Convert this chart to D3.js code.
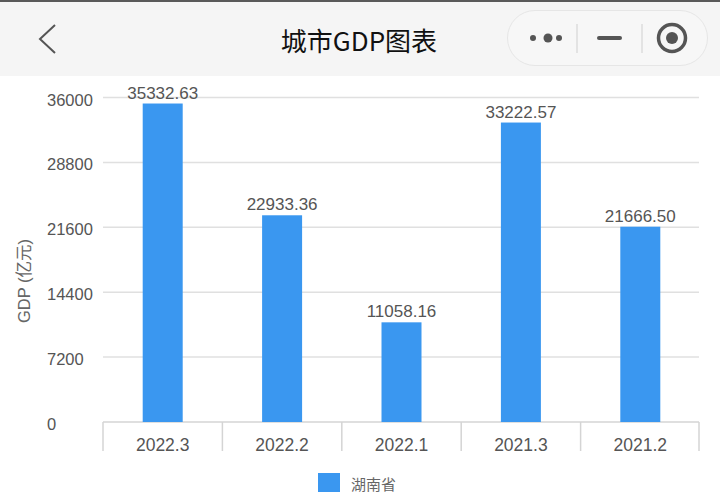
<!DOCTYPE html>
<html>
<head>
<meta charset="utf-8">
<script src="https://cdn.jsdelivr.net/npm/d3@7"></script>
<style>
  html, body { margin: 0; padding: 0; background: #fff; }
  svg { display: block; font-family: "Liberation Sans", Arial, "Noto Sans CJK SC", sans-serif; }
</style>
</head>
<body>
<div id="chart"></div>
<script>
// chart data
var categories = ["2022.3", "2022.2", "2022.1", "2021.3", "2021.2"];
var gdpValues = [35332.63, 22933.36, 11058.16, 33222.57, 21666.50];
var yTicks = [0, 7200, 14400, 21600, 28800, 36000];
var seriesName = "湖南省";
var chartTitle = "城市GDP图表";
var yTitle = "GDP (亿元)";

var W = 720, H = 501;
var barColor = "#3a97f0";

var svg = d3.select("#chart").append("svg")
    .attr("width", W)
    .attr("height", H);

/* header bar, like a mini program nav bar */
var header = svg.append("g");
header.append("rect")
    .attr("x", 0).attr("y", 0)
    .attr("width", W).attr("height", 76)
    .attr("fill", "#f5f5f5");
header.append("rect")
    .attr("x", 0).attr("y", 0)
    .attr("width", W).attr("height", 2)
    .attr("fill", "#5a5a5a");
header.append("path")
    .attr("d", "M55,25 L40,39 L55,53")
    .attr("fill", "none")
    .attr("stroke", "#555")
    .attr("stroke-width", 2);
header.append("text")
    .attr("x", 359).attr("y", 39)
    .attr("text-anchor", "middle")
    .attr("dominant-baseline", "central")
    .attr("font-family", "'Noto Sans CJK SC', sans-serif")
    .attr("font-size", 26)
    .attr("fill", "#111")
    .text(chartTitle);

// capsule buttons on the right
var cap = header.append("g");
cap.append("rect")
    .attr("x", 507.5).attr("y", 10.5)
    .attr("width", 200).attr("height", 55)
    .attr("rx", 27.5)
    .attr("fill", "#f7f7f7")
    .attr("stroke", "#e6e6e6");
[[533, 3], [548, 4.5], [559, 3]].forEach(function (d) {
    cap.append("circle").attr("cx", d[0]).attr("cy", 38).attr("r", d[1]).attr("fill", "#555");
});
[577, 642].forEach(function (x) {
    cap.append("line")
        .attr("x1", x).attr("x2", x).attr("y1", 24).attr("y2", 53)
        .attr("stroke", "#ddd").attr("stroke-width", 1.5);
});
cap.append("line")
    .attr("x1", 599).attr("x2", 620).attr("y1", 38).attr("y2", 38)
    .attr("stroke", "#555").attr("stroke-width", 4).attr("stroke-linecap", "round");
cap.append("circle").attr("cx", 672).attr("cy", 38).attr("r", 13.5)
    .attr("fill", "none").attr("stroke", "#555").attr("stroke-width", 3.5);
cap.append("circle").attr("cx", 672).attr("cy", 38).attr("r", 6).attr("fill", "#555");

/* chart area */
var x = d3.scaleBand()
    .domain(categories)
    .range([103, 700]);

var y = d3.scaleLinear()
    .domain([0, 36000])
    .range([422, 97.5]);

var grid = svg.append("g");
grid.selectAll("line")
    .data(yTicks)
    .enter().append("line")
    .attr("x1", 103).attr("x2", 699)
    .attr("y1", function (d) { return y(d); })
    .attr("y2", function (d) { return y(d); })
    .attr("stroke", function (d) { return d === 0 ? "#d4d4d4" : "#e0e0e0"; })
    .attr("stroke-width", 1.5);

grid.selectAll("text")
    .data(yTicks)
    .enter().append("text")
    .attr("x", 47)
    .attr("y", function (d) { return y(d) + 2; })
    .attr("dominant-baseline", "central")
    .attr("font-size", 16.5)
    .attr("fill", "#555")
    .text(function (d) { return d; });

// x-axis separators and labels
var xTickPos = categories.map(function (c) { return x(c); }).concat([x.range()[1] - 1]);
svg.append("g").selectAll("line")
    .data(xTickPos)
    .enter().append("line")
    .attr("x1", function (d) { return d; })
    .attr("x2", function (d) { return d; })
    .attr("y1", y(0))
    .attr("y2", 451)
    .attr("stroke", "#d4d4d4")
    .attr("stroke-width", 1.5);

svg.append("g").selectAll("text")
    .data(categories)
    .enter().append("text")
    .attr("x", function (d) { return x(d) + x.bandwidth() / 2; })
    .attr("y", 445)
    .attr("text-anchor", "middle")
    .attr("dominant-baseline", "central")
    .attr("font-size", 17.5)
    .attr("fill", "#555")
    .text(function (d) { return d; });

// bars
var barW = x.bandwidth() * 0.335;
svg.append("g").selectAll("rect")
    .data(gdpValues)
    .enter().append("rect")
    .attr("x", function (d, i) { return x(categories[i]) + (x.bandwidth() - barW) / 2; })
    .attr("y", function (d) { return y(d); })
    .attr("width", barW)
    .attr("height", function (d) { return y(0) - y(d); })
    .attr("fill", barColor);

svg.append("g").selectAll("text")
    .data(gdpValues)
    .enter().append("text")
    .attr("x", function (d, i) { return x(categories[i]) + x.bandwidth() / 2; })
    .attr("y", function (d) { return y(d) - 5; })
    .attr("text-anchor", "middle")
    .attr("font-size", 17)
    .attr("fill", "#555")
    .text(function (d) { return d.toFixed(2); });

// y axis title
svg.append("text")
    .attr("transform", "translate(24,281) rotate(-90)")
    .attr("text-anchor", "middle")
    .attr("dominant-baseline", "central")
    .attr("font-size", 16.5)
    .attr("fill", "#666")
    .text(yTitle);

// legend
var legend = svg.append("g");
legend.append("rect")
    .attr("x", 318).attr("y", 473)
    .attr("width", 22).attr("height", 19)
    .attr("fill", barColor);
legend.append("text")
    .attr("x", 351).attr("y", 483)
    .attr("dominant-baseline", "central")
    .attr("font-family", "'Noto Sans CJK SC', sans-serif")
    .attr("font-size", 15)
    .attr("fill", "#666")
    .text(seriesName);
</script>
</body>
</html>
